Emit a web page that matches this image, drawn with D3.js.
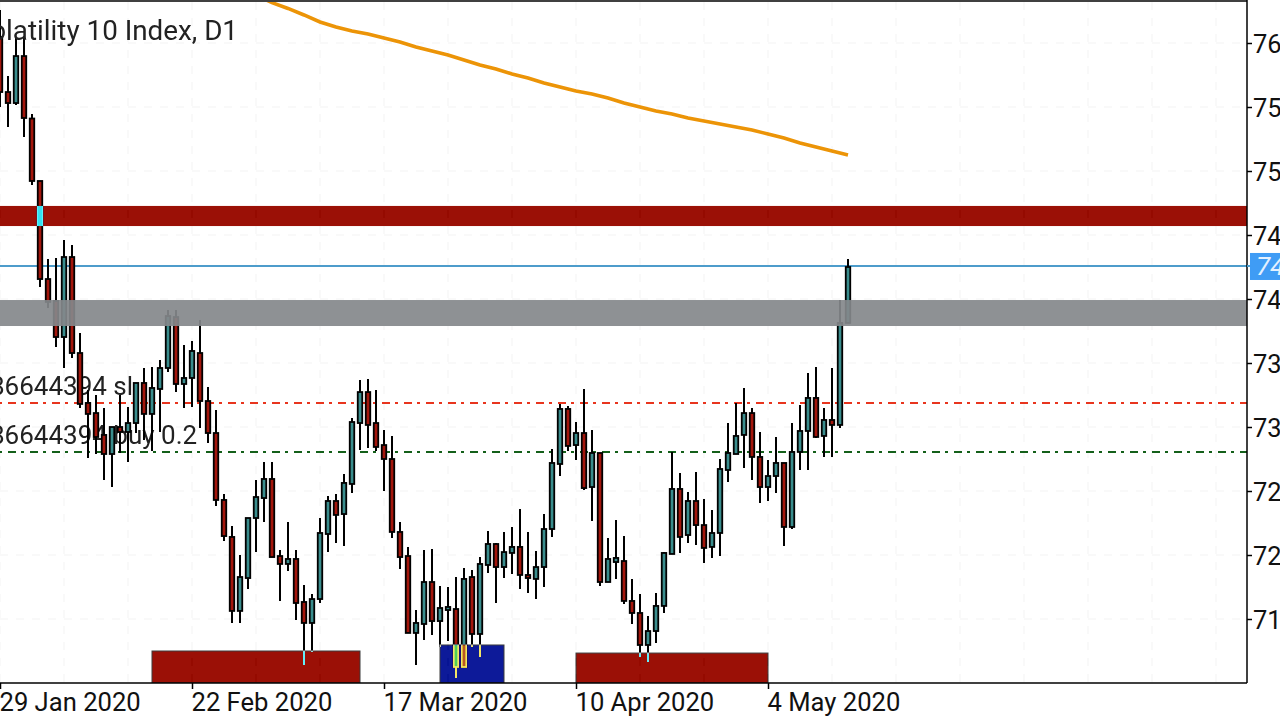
<!DOCTYPE html>
<html>
<head>
<meta charset="utf-8">
<script src="https://cdn.jsdelivr.net/npm/d3@7"></script>
<style>
html, body { margin: 0; padding: 0; background: #fff; overflow: hidden; }
svg { display: block; font-family: Roboto, sans-serif; }
.axisGroup .domain { display: none; }
.axisGroup line { stroke: #000; stroke-width: 1.5; }
.axisGroup text { fill: #111; font-family: Roboto, sans-serif; }
</style>
</head>
<body>
<div id="chart"></div>
<script>
// data, one value per daily bar
const firstDay = new Date(Date.UTC(2020, 0, 29))

const opens = [76.047,75.617,75.531,75.898,75.41,74.922,74.156,73.984,73.703,74.328,
  73.578,73.188,73.109,72.938,72.789,73,72.961,73.031,73.344,73.102,
  73.297,73.461,73.859,73.336,73.383,73.578,73.203,72.953,72.43,72.141,
  71.563,71.82,72.289,72.445,72.594,71.992,71.93,71.969,71.633,71.469,
  71.656,72.164,72.422,72.32,72.555,73.031,73.273,73.031,72.859,72.75,
  72.18,71.992,71.391,71.461,71.789,71.484,71.57,71.578,71.125,71.828,
  71.383,71.922,72.086,71.906,72.016,72.063,71.844,71.813,71.906,72.203,
  72.711,73.141,72.859,72.953,72.531,72.797,71.789,71.945,71.953,71.641,
  71.547,71.297,71.406,71.602,72.008,72.516,72.156,72.422,72.234,72.063,
  72.172,72.664,72.789,72.938,73.109,72.766,72.531,72.617,72.719,72.219,
  72.805,72.969,73.227,72.93,73.055,73.016,73.813]
const highs = [76.258,75.742,76.047,76.055,75.445,74.922,74.313,74.32,74.461,74.422,
  73.734,73.289,73.25,73.148,73,73.25,73.156,73.344,73.461,73.469,
  73.523,73.914,73.914,73.641,73.672,73.836,73.313,73.133,72.477,72.227,
  72,72.289,72.586,72.727,72.727,72.039,72.258,72.039,71.766,71.695,
  72.289,72.461,72.477,72.633,73.07,73.367,73.375,73.289,72.977,72.93,
  72.258,72.063,71.57,72.039,72.047,71.758,71.75,71.828,71.898,71.883,
  71.984,72.188,72.094,72.18,72.219,72.359,72.18,72.031,72.32,72.828,
  73.18,73.164,73.039,73.297,72.977,72.797,72.133,72.273,72.148,71.813,
  71.695,71.523,71.703,72.023,72.805,72.641,72.492,72.648,72.438,72.352,
  72.75,73.031,73.188,73.305,73.148,72.961,72.742,72.922,72.719,73.031,
  73.172,73.422,73.469,73.148,73.461,73.992,74.313]
const lows = [75.5,75.344,75.516,75.266,74.891,74.094,73.93,73.625,73.461,73.539,
  73.148,72.758,72.789,72.586,72.531,72.797,72.727,72.953,72.898,72.813,
  72.961,73.43,73.273,73.148,73.156,72.992,72.875,72.383,72.109,71.469,
  71.469,71.734,72.023,72.258,71.984,71.641,71.875,71.492,71.141,71.242,
  71.625,72.023,72.094,72.07,72.484,72.82,72.836,72.813,72.5,72.133,
  71.891,71.391,71.141,71.336,71.375,71.281,71.328,71.039,71.125,71.281,
  71.203,71.859,71.625,71.82,71.852,71.734,71.703,71.656,71.75,72.141,
  72.617,72.813,72.742,72.508,72.266,71.758,71.789,71.813,71.617,71.461,
  71.203,71.164,71.313,71.547,72.008,72.016,72.094,72.078,71.938,71.977,
  71.992,72.57,72.789,72.68,72.586,72.406,72.422,72.484,72.07,72.203,
  72.664,72.664,72.914,72.766,72.766,72.992,73.813]
const closes = [75.617,75.531,75.898,75.414,74.922,74.156,73.977,73.703,74.328,73.578,
  73.18,73.102,72.922,72.789,73,72.961,73.031,73.344,73.102,73.305,
  73.461,73.867,73.336,73.383,73.594,73.203,72.953,72.43,72.148,71.563,
  71.828,72.289,72.453,72.594,71.984,71.93,71.969,71.625,71.469,71.656,
  72.172,72.422,72.313,72.563,73.039,73.273,73.016,72.844,72.75,72.18,
  71.984,71.391,71.469,71.789,71.484,71.586,71.594,71.125,71.813,71.383,
  71.93,72.086,71.906,72.023,72.063,71.844,71.82,71.906,72.203,72.719,
  73.141,72.852,72.953,72.523,72.797,71.789,71.969,71.977,71.641,71.547,
  71.297,71.406,71.602,72.016,72.516,72.141,72.422,72.234,72.055,72.172,
  72.672,72.797,72.93,73.109,72.766,72.531,72.617,72.719,72.219,72.805,
  72.969,73.227,72.922,73.055,73.016,73.813,74.25]

// moving average, read every second bar
const maBars = [32,34,36,38,40,42,44,46,48,50,52,54,56,58,60,62,64,66,68,70,72,74,76,78,80,82,84,86,88,90,92,94,96,98,100,102,104,106]
const maValues = [76.375,76.315,76.27,76.219,76.164,76.125,76.094,76.07,76.039,76.008,
  75.969,75.938,75.906,75.867,75.828,75.797,75.758,75.727,75.688,75.656,
  75.625,75.602,75.57,75.531,75.5,75.469,75.445,75.414,75.391,75.367,
  75.344,75.32,75.289,75.258,75.219,75.188,75.156,75.125]

// zones [price top, price bottom]
const resistanceZone = [74.727, 74.57]
const greyZone = [73.992, 73.789]
const lastPrice = 74.258
const slPrice = 73.188
const buyPrice = 72.805

// boxes at the bottom [first bar, last bar, top price]
const boxes = [
  { from: 19, to: 45, top: 71.25, fill: "#64eff9" },
  { from: 55, to: 63, top: 71.297, fill: "#f2e566" },
  { from: 72, to: 96, top: 71.234, fill: "#64eff9" }
]

const yTickValues = [76, 75.5, 75, 74.5, 74, 73.5, 73, 72.5, 72, 71.5]
const yTickLabels = ["76", "75", "75", "74", "74", "73", "73", "72", "72", "71"]
const xTickBars = [0, 24, 48, 72, 96]

const width = 1280
const height = 720
const plot = { left: 0, right: 1247, top: 2, bottom: 683 }

// svg
const svg = d3.select("div#chart").append("svg").attr("width", width).attr("height", height)

svg.append("defs").append("clipPath").attr("id", "plotClip").append("rect")
  .attr("x", plot.left).attr("y", plot.top)
  .attr("width", plot.right - plot.left).attr("height", plot.bottom - plot.top)

// scales: 8px per day, 128px per unit of price
const day = i => d3.utcDay.offset(firstDay, i)
const x = d3.scaleUtc().domain([day(0), day(96)]).range([0, 768])
const y = d3.scaleLinear().domain([76, 71]).range([43, 683])

// groups
const elementGroup = svg.append("g").attr("clip-path", "url(#plotClip)")
const axisGroup = svg.append("g").attr("class", "axisGroup")

elementGroup.append("rect").attr("x", 0).attr("y", 0).attr("width", width).attr("height", height).attr("fill", "#fff")

// faint grid
const gridGroup = elementGroup.append("g").attr("stroke", "#f3f3f3").attr("stroke-dasharray", "8 8")
gridGroup.selectAll("line.h").data(yTickValues).join("line").attr("class", "h")
  .attr("x1", plot.left).attr("x2", plot.right).attr("y1", d => y(d)).attr("y2", d => y(d))
gridGroup.selectAll("line.v").data(d3.range(0, 20)).join("line").attr("class", "v")
  .attr("x1", d => x(day(d * 8))).attr("x2", d => x(day(d * 8))).attr("y1", plot.top).attr("y2", plot.bottom)

// order comments
const labelGroup = elementGroup.append("g").attr("fill", "#222").attr("font-size", 26)
labelGroup.append("text").attr("x", -10).attr("y", 395).text("86644394 sl")
labelGroup.append("text").attr("x", -10).attr("y", 444).text("86644394 buy 0.2")

// level lines
elementGroup.append("line").attr("x1", plot.left).attr("x2", plot.right)
  .attr("y1", y(slPrice)).attr("y2", y(slPrice))
  .attr("stroke", "#e8351e").attr("stroke-width", 2).attr("stroke-dasharray", "8 5 3 6").attr("stroke-dashoffset", 14)
elementGroup.append("line").attr("x1", plot.left).attr("x2", plot.right)
  .attr("y1", y(buyPrice)).attr("y2", y(buyPrice))
  .attr("stroke", "#14601a").attr("stroke-width", 2).attr("stroke-dasharray", "8 5 3 6").attr("stroke-dashoffset", 14)
elementGroup.append("line").attr("x1", plot.left).attr("x2", plot.right)
  .attr("y1", y(lastPrice)).attr("y2", y(lastPrice))
  .attr("stroke", "#4d9ccb").attr("stroke-width", 2)

// moving average
const maLine = d3.line().x((d, i) => x(day(maBars[i]))).y(d => y(d))
elementGroup.append("path").datum(maValues).attr("d", maLine)
  .attr("fill", "none").attr("stroke", "#ec9407").attr("stroke-width", 3.6)

// candles
const candles = elementGroup.selectAll("g.candle").data(opens).join("g").attr("class", "candle")
candles.append("line")
  .attr("x1", (d, i) => x(day(i))).attr("x2", (d, i) => x(day(i)))
  .attr("y1", (d, i) => y(highs[i])).attr("y2", (d, i) => y(lows[i]))
  .attr("stroke", "#000").attr("stroke-width", 2)
candles.append("rect")
  .attr("x", (d, i) => x(day(i)) - 2.25).attr("width", 4.5)
  .attr("y", (d, i) => y(Math.max(opens[i], closes[i])))
  .attr("height", (d, i) => Math.abs(y(opens[i]) - y(closes[i])))
  .attr("fill", (d, i) => closes[i] >= opens[i] ? "#3a8d8d" : "#a3160c")
  .attr("stroke", "#000").attr("stroke-width", 1.8)

// zones are painted by inverting what is under them, like the terminal does
const drawZone = (top, bottom, x0, x1, fill) => elementGroup.append("rect")
  .attr("x", x0).attr("width", x1 - x0)
  .attr("y", y(top)).attr("height", y(bottom) - y(top))
  .attr("fill", fill).style("mix-blend-mode", "difference")

drawZone(resistanceZone[0], resistanceZone[1], plot.left, plot.right, "#64eff9")
boxes.forEach(b => drawZone(b.top, 71, x(day(b.from)), x(day(b.to)), b.fill)
  .attr("stroke", "#c4c4c4").attr("stroke-width", 1))

elementGroup.append("rect").attr("x", plot.left).attr("width", plot.right - plot.left)
  .attr("y", y(greyZone[0])).attr("height", y(greyZone[1]) - y(greyZone[0]))
  .attr("fill", "#84888b").attr("opacity", 0.92)

// title
elementGroup.append("text").attr("x", 238).attr("y", 40).attr("text-anchor", "end")
  .attr("font-size", 27.8).attr("fill", "#222").text("Volatility 10 Index, D1")

// axes
const xAxis = d3.axisBottom(x).tickValues(xTickBars.map(day)).tickFormat(d3.utcFormat("%-d %b %Y")).tickSize(6)
const yAxis = d3.axisRight(y).tickValues(yTickValues).tickFormat((d, i) => yTickLabels[i]).tickSize(5).tickPadding(1)

const xAxisGroup = axisGroup.append("g").attr("transform", `translate(0, ${plot.bottom})`).call(xAxis)
xAxisGroup.selectAll("text").attr("text-anchor", "start").attr("x", -1).attr("y", 10).attr("font-size", 25.6)
const yAxisGroup = axisGroup.append("g").attr("transform", `translate(${plot.right}, 0)`).call(yAxis)
yAxisGroup.selectAll("text").attr("font-size", 25.5).attr("dy", "0.36em")

// frame
axisGroup.append("line").attr("x1", 0).attr("x2", plot.right).attr("y1", 1).attr("y2", 1)
axisGroup.append("line").attr("x1", 0).attr("x2", plot.right).attr("y1", plot.bottom).attr("y2", plot.bottom)
axisGroup.append("line").attr("x1", plot.right).attr("x2", plot.right).attr("y1", 0).attr("y2", plot.bottom)

// current price tag
const tag = svg.append("g")
svg.append("line").attr("x1", plot.right).attr("x2", 1250).attr("y1", y(lastPrice)).attr("y2", y(lastPrice))
  .attr("stroke", "#4d9ccb").attr("stroke-width", 2)
tag.append("rect").attr("x", 1250).attr("width", 30).attr("y", y(lastPrice) - 13).attr("height", 27).attr("fill", "#3f9cf5")
tag.append("text").attr("x", 1256).attr("y", y(lastPrice) + 9).attr("font-size", 26).attr("font-style", "italic")
  .attr("fill", "#e4f1ff").text("74")
</script>
</body>
</html>
